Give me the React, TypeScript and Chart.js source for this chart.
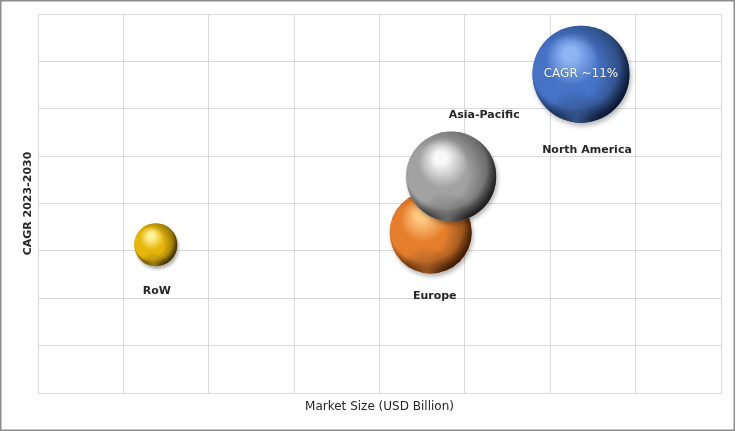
import React, { useEffect, useRef } from "react";
import { Chart, registerables } from "chart.js";

Chart.register(...registerables);

// Regional market bubbles: x = market size, y = CAGR, r = bubble radius (px)
const regions = ["RoW", "Europe", "Asia-Pacific", "North America"];
const marketSize = [1.38, 4.6, 4.84, 6.36];
const cagr = [3.13, 3.39, 4.57, 6.73];
const bubbleRadius = [21.5, 41, 45, 48.5];
const bubbleNote = ["", "", "", "CAGR ~11%"];

const xAxisTitle = "Market Size (USD Billion)";
const yAxisTitle = "CAGR 2023-2030";

// sphere shading per region: highlight, body, shade, bottom reflection
const palette = [
  { hi: "#fff39a", mid: "#e6b60c", dark: "#6e5000", refl: "rgba(255,214,60,0.5)" },
  { hi: "#ffc982", mid: "#e57f2e", dark: "#6e2f06", refl: "rgba(250,150,70,0.5)" },
  { hi: "#f8f8f8", mid: "#a2a2a2", dark: "#333333", refl: "rgba(200,200,200,0.5)" },
  { hi: "#8fb6f2", mid: "#4673c6", dark: "#142a55", refl: "rgba(95,145,225,0.55)" },
];

// label placement relative to each bubble
const labelPlacement = [
  { side: "below", dx: 1, gap: 25 },
  { side: "below", dx: 4, gap: 23 },
  { side: "above", dx: 33, gap: 16 },
  { side: "below", dx: 6, gap: 27 },
];

const FONT = "'DejaVu Sans', 'Liberation Sans', sans-serif";

function drawSphere(ctx: CanvasRenderingContext2D, cx: number, cy: number, r: number, c: any) {
  // drop shadow
  ctx.save();
  ctx.shadowColor = "rgba(0,0,0,0.3)";
  ctx.shadowBlur = Math.max(3, r * 0.1);
  ctx.shadowOffsetX = 1.5;
  ctx.shadowOffsetY = 3;
  ctx.beginPath();
  ctx.arc(cx, cy, r, 0, Math.PI * 2);
  ctx.fillStyle = c.mid;
  ctx.fill();
  ctx.restore();

  // body gradient with highlight at upper left
  ctx.save();
  const g = ctx.createRadialGradient(cx - 0.25 * r, cy - 0.45 * r, 0, cx - 0.1 * r, cy - 0.15 * r, 1.15 * r);
  g.addColorStop(0, c.hi);
  g.addColorStop(0.12, c.hi);
  g.addColorStop(0.48, c.mid);
  g.addColorStop(0.8, c.mid);
  g.addColorStop(1, c.dark);
  ctx.beginPath();
  ctx.arc(cx, cy, r, 0, Math.PI * 2);
  ctx.fillStyle = g;
  ctx.fill();
  ctx.clip();

  // darker rim toward the right
  const rim = ctx.createRadialGradient(cx - 0.3 * r, cy - 0.05 * r, 0.65 * r, cx - 0.3 * r, cy - 0.05 * r, 1.35 * r);
  rim.addColorStop(0, "rgba(0,0,0,0)");
  rim.addColorStop(1, "rgba(0,0,0,0.5)");
  ctx.fillStyle = rim;
  ctx.fillRect(cx - r, cy - r, 2 * r, 2 * r);

  // soft reflection along the bottom
  const rg = ctx.createRadialGradient(cx - 0.1 * r, cy + 1.05 * r, 0, cx - 0.1 * r, cy + 1.05 * r, 0.7 * r);
  rg.addColorStop(0, c.refl);
  rg.addColorStop(1, "rgba(0,0,0,0)");
  ctx.fillStyle = rg;
  ctx.fillRect(cx - r, cy - r, 2 * r, 2 * r);
  ctx.restore();
}

const spherePlugin = {
  id: "spheres",
  afterDatasetsDraw(chart: any) {
    const ctx: CanvasRenderingContext2D = chart.ctx;
    const meta = chart.getDatasetMeta(0);
    meta.data.forEach((el: any, i: number) => {
      drawSphere(ctx, el.x, el.y, el.options.radius, palette[i]);
    });
    // region labels and the note inside the largest bubble
    meta.data.forEach((el: any, i: number) => {
      const r = el.options.radius;
      const p = labelPlacement[i];
      ctx.save();
      ctx.font = `bold 11px ${FONT}`;
      ctx.fillStyle = "#262626";
      ctx.textAlign = "center";
      ctx.textBaseline = "middle";
      const y = p.side === "below" ? el.y + r + p.gap : el.y - r - p.gap;
      ctx.fillText(regions[i], el.x + p.dx, y);
      if (bubbleNote[i]) {
        ctx.font = `12px ${FONT}`;
        ctx.fillStyle = "#ffffff";
        ctx.shadowColor = "rgba(0,0,0,0.5)";
        ctx.shadowBlur = 1;
        ctx.fillText(bubbleNote[i], el.x, el.y);
      }
      ctx.restore();
    });
  },
  afterDraw(chart: any) {
    const ctx: CanvasRenderingContext2D = chart.ctx;
    const a = chart.chartArea;
    ctx.save();
    // axis titles
    ctx.fillStyle = "#262626";
    ctx.textAlign = "center";
    ctx.textBaseline = "middle";
    ctx.font = `12px ${FONT}`;
    ctx.fillText(xAxisTitle, (a.left + a.right) / 2, a.bottom + 14);
    ctx.translate(a.left - 10, (a.top + a.bottom) / 2);
    ctx.rotate(-Math.PI / 2);
    ctx.font = `bold 11px ${FONT}`;
    ctx.fillText(yAxisTitle, 0, 0);
    ctx.restore();
    // frame
    ctx.save();
    ctx.strokeStyle = "#8c8c8c";
    ctx.lineWidth = 1.5;
    ctx.strokeRect(0.75, 0.75, chart.width - 2.5, chart.height - 1.5);
    ctx.restore();
  },
};

export default function App() {
  const ref = useRef<HTMLCanvasElement | null>(null);

  useEffect(() => {
    if (!ref.current) return;
    const chart = new Chart(ref.current, {
      type: "bubble",
      data: {
        datasets: [
          {
            label: "Regions",
            data: regions.map((_, i) => ({ x: marketSize[i], y: cagr[i], r: bubbleRadius[i] })),
            backgroundColor: "rgba(0,0,0,0)",
            borderWidth: 0,
            hoverRadius: 0,
            clip: false,
          },
        ],
      },
      options: {
        animation: false,
        responsive: false,
        devicePixelRatio: 1,
        layout: { autoPadding: false, padding: { left: 38, top: 14, right: 15, bottom: 38 } },
        plugins: { legend: { display: false }, tooltip: { enabled: false } },
        scales: {
          x: {
            type: "linear",
            min: 0,
            max: 8,
            ticks: { display: false, stepSize: 1 },
            grid: { color: "#d9d9d9", lineWidth: 1, drawTicks: false },
            border: { display: true, color: "#d9d9d9" },
          },
          y: {
            type: "linear",
            min: 0,
            max: 8,
            ticks: { display: false, stepSize: 1 },
            grid: { color: "#d9d9d9", lineWidth: 1, drawTicks: false },
            border: { display: true, color: "#d9d9d9" },
          },
        },
      },
      plugins: [spherePlugin],
    });
    return () => chart.destroy();
  }, []);

  return (
    <div style={{ position: "fixed", left: 0, top: 0, width: 736, height: 431, background: "#fff" }}>
      <canvas ref={ref} width={736} height={431} style={{ display: "block" }} />
    </div>
  );
}
